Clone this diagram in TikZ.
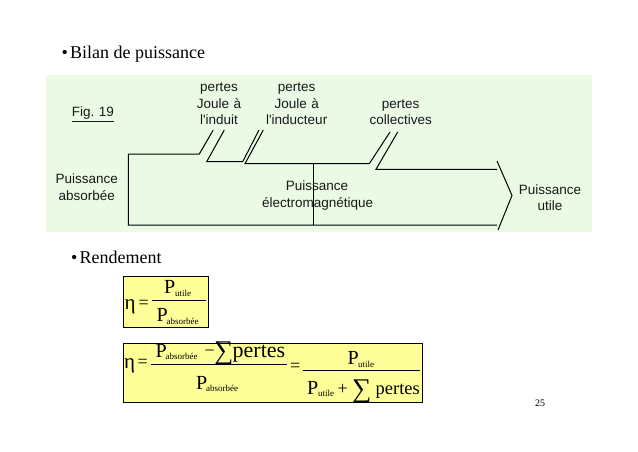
\documentclass[tikz,border=0pt]{standalone}
\usepackage{fontspec}
\setmainfont{Liberation Serif}
\newfontfamily\lsans{Liberation Sans}
\newfontfamily\eqf{Liberation Serif}
\definecolor{bggreen}{RGB}{234,250,228}
\definecolor{boxyellow}{RGB}{255,255,153}
\definecolor{txt}{RGB}{25,25,25}
\begin{document}
\begin{tikzpicture}[x=1pt,y=-1pt,
  lbl/.style={font=\lsans\fontsize{13.5}{16.5}\selectfont, text=txt, text width=110pt, align=center, anchor=base, inner sep=0pt},
  flow/.style={line width=1pt, line join=miter},
  fbox/.style={draw=black, line width=0.9pt, fill=boxyellow},
  fbar/.style={line width=0.8pt},
  big/.style={font=\eqf\fontsize{20}{20}\selectfont, anchor=base west, inner sep=0pt},
  bigger/.style={font=\eqf\fontsize{22}{22}\selectfont, anchor=base west, inner sep=0pt},
  eqsign/.style={font=\eqf\fontsize{18}{18}\selectfont, anchor=base west, inner sep=0pt},
  eta/.style={font=\eqf\fontsize{21}{21}\selectfont, anchor=base west, inner sep=0pt},
  sumsign/.style={font=\eqf\fontsize{27}{27}\selectfont, anchor=base west, inner sep=0pt},
  sub/.style={font=\eqf\fontsize{9}{9}\selectfont, anchor=base west, inner sep=0pt},
  title/.style={font=\fontsize{18}{18}\selectfont, anchor=base west, inner sep=0pt}]
\useasboundingbox (0,0) rectangle (638,451);
\fill[white] (0,0) rectangle (638,451);

% titles
\node[title] (t1) at (61.5,58.3) {•\hspace{2.2pt}Bilan de puissance};
\node[title] (t2) at (71,263.3) {•\hspace{2.2pt}Rendement};
\node[font=\fontsize{10}{10}\selectfont, anchor=base west, inner sep=0pt] (pg) at (535,406.7) {25};

% green panel
\fill[bggreen] (46,75) rectangle (592,232);

% flow diagram
\coordinate (a0) at (128.3,225);
\coordinate (a1) at (128.3,154);
\coordinate (a2) at (199.3,154);
\coordinate (a3) at (213.3,130);
\coordinate (b1) at (224.3,130);
\coordinate (b2) at (206.7,161.7);
\coordinate (b3) at (242.7,161.7);
\coordinate (b4) at (259,130);
\coordinate (c1) at (263.3,130);
\coordinate (c2) at (245,163.7);
\coordinate (c3) at (369.3,163.7);
\coordinate (c4) at (390,132);
\coordinate (d1) at (397.7,132);
\coordinate (d2) at (376,169.3);
\coordinate (d3) at (497,169.3);
\coordinate (e1) at (497,225);
\coordinate (v1) at (313.3,163.7);
\coordinate (v2) at (313.3,225);
\coordinate (k1) at (497,161);
\coordinate (k2) at (512,195.5);
\coordinate (k3) at (498,230);

\draw[flow] (e1) -- (a0) -- (a1) -- (a2) -- (a3);
\draw[flow] (b1) -- (b2) -- (b3) -- (b4);
\draw[flow] (c1) -- (c2) -- (c3) -- (c4);
\draw[flow] (d1) -- (d2) -- (d3);
\draw[flow] (k1) -- (k2) -- (k3);
\draw[flow] (v1) -- (v2);

% labels
\node[lbl] (fig) at (93,116.7) {\underline{Fig.\ 19}};
\node[lbl] (pji) at (219,91.7) {pertes\\Joule à\\l'induit};
\node[lbl] (pjd) at (296.7,91.7) {pertes\\Joule à\\l'inducteur};
\node[lbl] (pc) at (400.7,108.3) {pertes\\collectives};
\node[lbl] (pa) at (86.7,183.5) {Puissance\\absorbée};
\node[lbl] (pe) at (317,190.5) {Puissance\\électromagnétique};
\node[lbl] (pu) at (550,194) {Puissance\\utile};

% formula 1
\draw[fbox] (123,276) rectangle (208,327);
\node[eta] (f1eta) at (124.5,309) {η};
\node[eqsign] (f1eq) at (138.5,308.5) {=};
\draw[fbar] (152,300) -- (206,300);
\node[big] (f1np) at (164,293.5) {P};
\node[sub] (f1ns) at (175,296) {utile};
\node[big] (f1dp) at (156.5,321.5) {P};
\node[sub] (f1ds) at (166.5,324) {absorbée};

% formula 2
\draw[fbox] (123,343) rectangle (422,402);
\node[eta] (f2eta) at (124,368) {η};
\node[eqsign] (f2eq) at (137.5,367) {=};
\draw[fbar] (151,364.5) -- (287,364.5);
\node[big] (f2np) at (155.5,357) {P};
\node[sub] (f2ns) at (165.5,359.5) {absorbée};
\node[eqsign] (f2mn) at (204.5,356) {−};
\node[sumsign] (f2s1) at (214,359) {∑};
\node[bigger] (f2pt) at (232.5,357) {pertes};
\node[big] (f2dp) at (196,389) {P};
\node[sub] (f2ds) at (206,391.5) {absorbée};
\node[eqsign] (f2eq2) at (290,371) {=};
\draw[fbar] (303,370) -- (420,370);
\node[big] (f2rp) at (347.5,364.5) {P};
\node[sub] (f2rs) at (358,367) {utile};
\node[big] (f2dp2) at (307,394) {P};
\node[sub] (f2ds2) at (318,396.5) {utile};
\node[eqsign] (f2pl) at (337.5,394) {+};
\node[sumsign] (f2s2) at (352,397) {∑};
\node[big, font=\eqf\fontsize{18.5}{18.5}\selectfont] (f2pt2) at (375.5,394) {pertes};
\end{tikzpicture}
\end{document}
